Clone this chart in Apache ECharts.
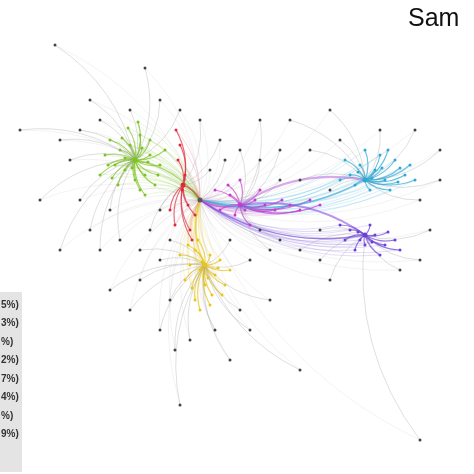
<!DOCTYPE html><html><head><meta charset="utf-8">
<script src="https://cdn.jsdelivr.net/npm/echarts@6/dist/echarts.min.js"></script>
<style>html,body{margin:0;background:#fff}#c{width:474px;height:474px}</style></head><body><div id="c"></div>
<script>
const hubs = {green:[135,160], yellow:[205,265], cyan:[365,180], purple:[365,235], magenta:[240,205], red:[183,185], center:[200,200]};
const hubColors = {green:'#7dc324', yellow:'#e8c51c', cyan:'#2ba9d6', purple:'#6a3fd8', magenta:'#c83ad0', red:'#e0283c', center:'#555555'};
const green = [[110,140],[120,150],[140,135],[150,155],[125,170],[135,180],[115,165],[145,175],[160,165],[105,155],[130,145],[150,140],[118,185],[140,190],[100,175],[155,185],[128,128],[165,150],[122,138],[142,148],[132,168],[112,178],[148,162],[138,122],[158,175],[125,158],[108,165],[145,195]];
const yellow = [[195,250],[210,255],[200,270],[215,275],[190,265],[205,285],[220,260],[198,240],[185,280],[212,295],[225,285],[195,300],[180,255],[230,270],[202,262],[208,278],[192,288],[218,268],[200,310],[188,245],[222,295],[210,305]];
const cyan = [[350,175],[360,165],[375,170],[385,180],[395,160],[370,190],[355,185],[390,190],[405,175],[345,160],[380,155],[365,150],[410,165],[372,178],[382,168],[398,182],[358,172],[388,150],[400,168],[415,180],[340,180]];
const purple = [[350,230],[360,240],[375,235],[385,245],[370,225],[395,240],[355,250],[340,225],[380,255],[365,245],[372,242],[388,232],[358,232],[400,250],[345,240]];
const magenta = [[230,195],[245,210],[255,200],[220,210],[265,205],[275,210],[290,205],[300,210],[310,200],[240,180],[215,190],[250,225],[320,205],[235,215],[260,190],[282,200],[228,185]];
const red = [[180,145],[178,160],[185,175],[182,190],[188,205],[195,215],[190,230],[170,210],[175,225],[176,130],[192,240]];
const gray = [[80,200],[90,230],[70,160],[100,250],[120,240],[150,230],[160,260],[140,280],[170,300],[160,330],[175,350],[190,340],[215,330],[240,310],[250,260],[270,250],[280,240],[300,250],[320,260],[330,280],[310,150],[280,150],[260,160],[240,150],[220,140],[200,120],[180,110],[160,100],[130,110],[100,120],[80,130],[60,140],[300,180],[330,190],[340,140],[420,200],[430,230],[420,260],[400,270],[440,180],[415,130],[380,130],[260,120],[290,120],[145,68],[55,45],[20,130],[300,370],[420,440],[180,405],[250,330],[230,360],[270,300],[110,290],[130,310],[60,250],[40,200],[90,100],[330,110],[440,150],[210,170],[230,240],[260,230],[160,210],[110,210],[280,180],[320,230],[225,160],[170,240],[140,250]];
const legendTexts = ['5%)','3%)','%)','2%)','7%)','4%)','%)','9%)'];

const nodes=[], links=[];
Object.keys(hubs).forEach(k=>nodes.push({name:'hub_'+k,value:hubs[k],symbolSize:5,itemStyle:{color:hubColors[k]}}));
const groups={green,yellow,cyan,purple,magenta,red};
Object.keys(groups).forEach(k=>groups[k].forEach((p,i)=>{
  const n=k+i; nodes.push({name:n,value:p,symbolSize:3,itemStyle:{color:hubColors[k]}});
  links.push({source:n,target:'hub_'+k,lineStyle:{color:hubColors[k],opacity:0.7,width:1.2}});
  links.push({source:n,target:'hub_center',lineStyle:{color:hubColors[k],opacity:0.25}});
}));
gray.forEach((p,i)=>{
  const n='g'+i; nodes.push({name:n,value:p,symbolSize:3,itemStyle:{color:'#444'}});
  let best='center',bd=1e9;
  Object.keys(hubs).forEach(k=>{const d=(hubs[k][0]-p[0])**2+(hubs[k][1]-p[1])**2;if(d<bd){bd=d;best=k;}});
  links.push({source:n,target:'hub_'+best,lineStyle:{color:'#999',opacity:0.45}});
  links.push({source:n,target:'hub_center',lineStyle:{color:'#bbb',opacity:0.25}});
});
['green','yellow','cyan','purple','magenta','red'].forEach(k=>links.push({source:'hub_'+k,target:'hub_center',lineStyle:{color:hubColors[k],opacity:0.6,width:1.5}}));
links.push({source:'hub_magenta',target:'hub_cyan',lineStyle:{color:'#c070e0',opacity:0.6,width:2}});
links.push({source:'hub_magenta',target:'hub_purple',lineStyle:{color:'#9050e0',opacity:0.6,width:2}});

const chart=echarts.init(document.getElementById('c'));
const legendGraphics=[{type:'rect',shape:{x:0,y:292,width:22,height:180},style:{fill:'#e4e4e4'}}];
legendTexts.forEach((t,i)=>legendGraphics.push({type:'text',x:1,y:300+i*18.5,style:{text:t,font:'bold 10px "Liberation Sans"',fill:'#333'}}));
chart.setOption({
  animation:false,
  graphic:legendGraphics.concat([{type:'text',x:408,y:7,style:{text:'Sam',font:'25px "Liberation Sans"',fill:'#111'}}]),
  grid:{left:0,right:0,top:0,bottom:0},
  xAxis:{type:'value',min:0,max:474,show:false},
  yAxis:{type:'value',min:0,max:474,inverse:true,show:false},
  series:[{type:'graph',coordinateSystem:'cartesian2d',layout:'none',data:nodes,links:links,
    lineStyle:{width:0.7,curveness:0.2},symbol:'circle'}]
});
</script></body></html>
